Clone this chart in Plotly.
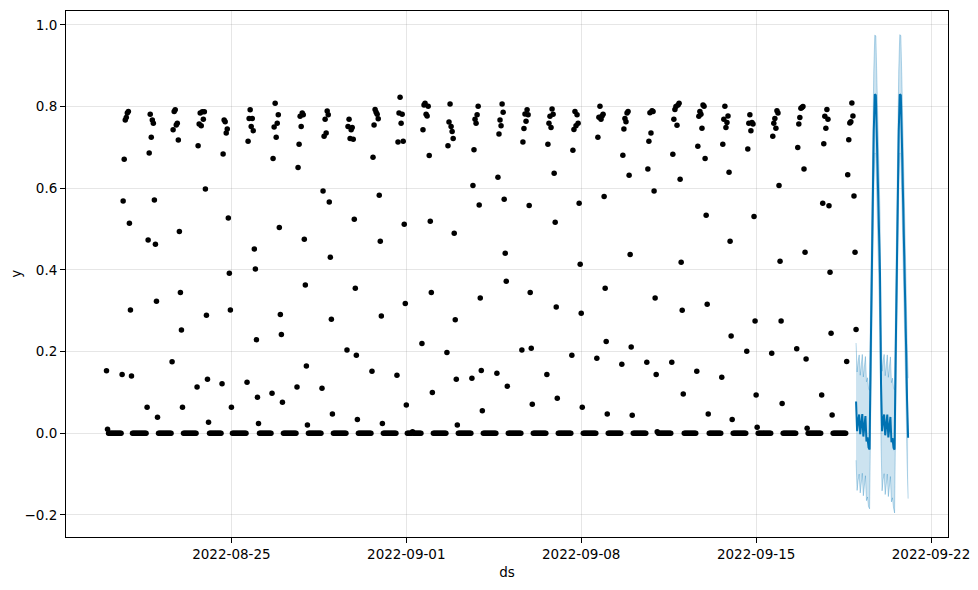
import pandas as pd
import plotly.graph_objects as go

# ---------------- observed data (hourly, y = 0 at night) ----------------
obs_start = "2022-08-20 00:00"
obs_end = "2022-09-19 00:00"
head_values = [0.153, 0.010]          # 2022-08-20 00:00, 01:00
day_start_hour = 15                   # first daylight hour of each day's list
daylight_values = [
    [0.144, 0.569, 0.671, 0.767, 0.773, 0.784, 0.788, 0.514, 0.302, 0.140],
    [0.064, 0.473, 0.686, 0.781, 0.725, 0.767, 0.759, 0.571, 0.463, 0.323, 0.039],
    [0.175, 0.743, 0.788, 0.792, 0.755, 0.759, 0.718, 0.494, 0.345, 0.253, 0.064],
    [0.113, 0.704, 0.757, 0.784, 0.753, 0.787, 0.769, 0.787, 0.598, 0.289, 0.132, 0.027],
    [0.121, 0.684, 0.767, 0.763, 0.735, 0.745, 0.527, 0.392, 0.302, 0.064],
    [0.125, 0.715, 0.771, 0.792, 0.751, 0.771, 0.741, 0.451, 0.402, 0.229, 0.088, 0.024],
    [0.098, 0.673, 0.750, 0.808, 0.725, 0.759, 0.780, 0.504, 0.291, 0.242, 0.076],
    [0.113, 0.651, 0.708, 0.776, 0.751, 0.784, 0.780, 0.475, 0.363, 0.165, 0.020],
    [0.110, 0.593, 0.727, 0.769, 0.735, 0.789, 0.780, 0.566, 0.431, 0.279, 0.047],
    [0.204, 0.751, 0.769, 0.722, 0.743, 0.749, 0.720, 0.524, 0.355, 0.191, 0.034],
    [0.152, 0.676, 0.755, 0.793, 0.786, 0.781, 0.770, 0.583, 0.470, 0.287, 0.024],
    [0.142, 0.713, 0.784, 0.823, 0.759, 0.781, 0.715, 0.512, 0.318, 0.069],
    [0.220, 0.743, 0.804, 0.808, 0.781, 0.777, 0.801, 0.680, 0.519, 0.345, 0.100],
    [0.198, 0.704, 0.762, 0.806, 0.751, 0.739, 0.722, 0.490, 0.278, 0.132, 0.020],
    [0.135, 0.607, 0.694, 0.769, 0.759, 0.780, 0.801, 0.559, 0.331, 0.154, 0.055],
    [0.147, 0.627, 0.733, 0.767, 0.753, 0.806, 0.786, 0.573, 0.441, 0.372, 0.115],
    [0.204, 0.713, 0.746, 0.782, 0.764, 0.792, 0.780, 0.558, 0.345, 0.208, 0.071],
    [0.144, 0.708, 0.759, 0.776, 0.749, 0.794, 0.781, 0.637, 0.517, 0.309, 0.086],
    [0.191, 0.693, 0.744, 0.788, 0.753, 0.780, 0.759, 0.563, 0.414, 0.294, 0.064],
    [0.184, 0.725, 0.774, 0.801, 0.769, 0.777, 0.781, 0.580, 0.355, 0.225, 0.047],
    [0.169, 0.681, 0.745, 0.771, 0.763, 0.784, 0.788, 0.632, 0.438, 0.211, 0.044],
    [0.174, 0.647, 0.715, 0.785, 0.735, 0.790, 0.788, 0.593, 0.331, 0.144, 0.004],
    [0.174, 0.683, 0.769, 0.793, 0.800, 0.754, 0.804, 0.808, 0.622, 0.419, 0.301, 0.096],
    [0.152, 0.703, 0.776, 0.788, 0.781, 0.747, 0.804, 0.801, 0.673, 0.534, 0.316, 0.047],
    [0.137, 0.708, 0.769, 0.801, 0.749, 0.761, 0.777, 0.639, 0.470, 0.238, 0.034],
    [0.201, 0.696, 0.759, 0.780, 0.741, 0.761, 0.757, 0.531, 0.275, 0.094, 0.015],
    [0.196, 0.727, 0.759, 0.771, 0.747, 0.790, 0.784, 0.607, 0.421, 0.275, 0.073],
    [0.207, 0.700, 0.757, 0.773, 0.796, 0.798, 0.800, 0.647, 0.443, 0.182, 0.012],
    [0.094, 0.563, 0.709, 0.776, 0.747, 0.793, 0.769, 0.557, 0.394, 0.245, 0.045],
    [0.176, 0.633, 0.719, 0.760, 0.763, 0.809, 0.777, 0.581, 0.443, 0.254],
]
extra_times = ["2022-09-01 06:00"]
extra_values = [0.004]

# ---------------- forecast (hourly) ----------------
fc_start = "2022-09-19 00:00"
yhat = [0.078, 0.005, 0.030, 0.046, -0.002, 0.025, 0.047, -0.008, 0.012, 0.042,
        -0.020, -0.010, -0.035, -0.040, 0.180, 0.420, 0.600, 0.740, 0.830, 0.828,
        0.720, 0.610, 0.500, 0.390, 0.120, 0.005, 0.032, 0.046, -0.005, 0.025,
        0.046, -0.010, 0.012, 0.040, -0.022, -0.012, -0.036, -0.040, 0.180, 0.420,
        0.600, 0.740, 0.830, 0.828, 0.720, 0.610, 0.500, 0.390, 0.220, 0.080, -0.011]
yhat_upper = [0.221, 0.150, 0.176, 0.192, 0.142, 0.170, 0.193, 0.138, 0.158, 0.188,
              0.126, 0.136, 0.110, 0.105, 0.325, 0.566, 0.746, 0.886, 0.975, 0.973,
              0.866, 0.755, 0.646, 0.536, 0.266, 0.152, 0.178, 0.193, 0.141, 0.172,
              0.192, 0.137, 0.159, 0.187, 0.124, 0.135, 0.111, 0.106, 0.326, 0.567,
              0.747, 0.887, 0.976, 0.974, 0.866, 0.756, 0.646, 0.537, 0.367, 0.226, 0.135]
yhat_lower = [-0.066, -0.140, -0.115, -0.100, -0.146, -0.121, -0.098, -0.153, -0.132, -0.104,
              -0.165, -0.156, -0.180, -0.185, 0.035, 0.275, 0.455, 0.595, 0.686, 0.683,
              0.575, 0.464, 0.355, 0.245, -0.025, -0.141, -0.113, -0.099, -0.150, -0.120,
              -0.100, -0.155, -0.133, -0.106, -0.168, -0.158, -0.183, -0.195, 0.035, 0.275,
              0.455, 0.595, 0.686, 0.683, 0.575, 0.465, 0.355, 0.245, 0.075, -0.065, -0.160]

x_tick_vals = ["2022-08-25", "2022-09-01", "2022-09-08", "2022-09-15", "2022-09-22"]
y_tick_vals = [-0.2, 0.0, 0.2, 0.4, 0.6, 0.8, 1.0]

# ---------------- build the observed table ----------------
ds = pd.date_range(obs_start, obs_end, freq="h")
obs = pd.Series(0.0, index=ds)
for i, v in enumerate(head_values):
    obs.iloc[i] = v
day0 = pd.Timestamp(obs_start)
for d, vals in enumerate(daylight_values):
    t0 = day0 + pd.Timedelta(days=d, hours=day_start_hour)
    for i, v in enumerate(vals):
        t = t0 + pd.Timedelta(hours=i)
        if t in obs.index:
            obs.loc[t] = v
for t, v in zip(extra_times, extra_values):
    obs.loc[pd.Timestamp(t)] = v

fc_ds = pd.date_range(fc_start, periods=len(yhat), freq="h")

BLUE = "#0072B2"
BAND = "rgba(0,114,178,0.2)"
EDGE = "rgba(0,114,178,0.28)"
FONT = "DejaVu Sans"

fig = go.Figure()
fig.add_trace(go.Scatter(x=obs.index, y=obs.values, mode="markers",
                         marker=dict(color="black", size=5.5, line=dict(width=0)),
                         hoverinfo="x+y"))
fig.add_trace(go.Scatter(x=fc_ds, y=yhat, mode="lines",
                         line=dict(color=BLUE, width=2)))
fig.add_trace(go.Scatter(x=fc_ds, y=yhat_upper, mode="lines",
                         line=dict(color=EDGE, width=1)))
fig.add_trace(go.Scatter(x=fc_ds, y=yhat_lower, mode="lines",
                         line=dict(color=EDGE, width=1),
                         fill="tonexty", fillcolor=BAND))

axis_common = dict(showline=True, linecolor="black", linewidth=1, mirror=True,
                   ticks="outside", ticklen=5, tickwidth=1, tickcolor="black",
                   showgrid=True, gridcolor="rgba(128,128,128,0.2)", gridwidth=1,
                   zeroline=False, automargin=False,
                   tickfont=dict(family=FONT, size=13.5, color="black"))

# the page body adds an 8px offset, so the figure is sized to sit inside the window
fig.update_layout(
    width=970, height=582,
    margin=dict(l=58, r=30, t=3, b=53),
    paper_bgcolor="white", plot_bgcolor="white",
    showlegend=False,
    font=dict(family=FONT, size=13.5, color="black"),
    xaxis=dict(axis_common, type="date",
               range=["2022-08-18 09:06", "2022-09-22 16:19"],
               tickvals=x_tick_vals, ticktext=x_tick_vals,
               title=dict(text="ds", standoff=6, font=dict(family=FONT, size=13.5))),
    yaxis=dict(axis_common, range=[-0.254, 1.034],
               tickvals=y_tick_vals, tickformat=".1f"),
    annotations=[dict(text="y", xref="paper", yref="paper", x=-0.057, y=0.5,
                      xanchor="center", yanchor="middle", textangle=-90, borderpad=0,
                      showarrow=False, font=dict(family=FONT, size=13.5, color="black"))],
)

fig.write_html("out.html")
